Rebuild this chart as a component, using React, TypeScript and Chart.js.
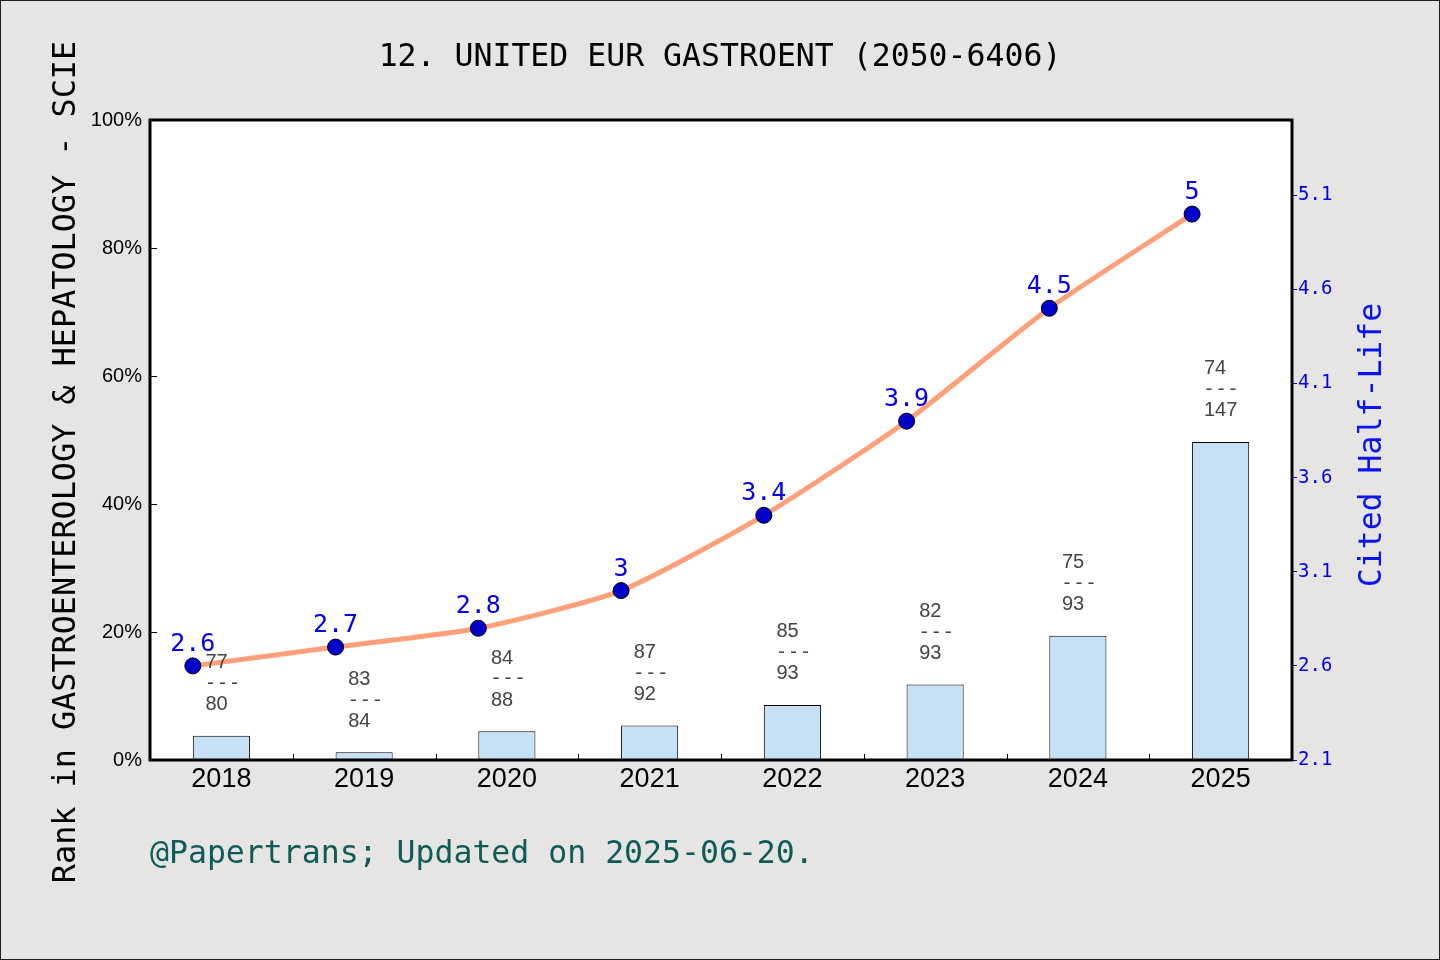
import { useEffect, useRef } from "react";
import { Chart, registerables } from "chart.js";

Chart.register(...registerables);

const YEARS = ["2018", "2019", "2020", "2021", "2022", "2023", "2024", "2025"];
const RANKS = [77, 83, 84, 87, 85, 82, 75, 74];
const TOTALS = [80, 84, 88, 92, 93, 93, 93, 147];
const RANK_PCT = [3.8, 1.2, 4.5, 5.4, 8.6, 11.8, 19.4, 49.7];
const HALF_LIFE = [2.6, 2.7, 2.8, 3, 3.4, 3.9, 4.5, 5];
const PCT_TICKS = [0, 20, 40, 60, 80, 100];
const HALF_LIFE_TICKS = [2.1, 2.6, 3.1, 3.6, 4.1, 4.6, 5.1];

const TITLE = "12. UNITED EUR GASTROENT (2050-6406)";
const LEFT_TITLE = "Rank in GASTROENTEROLOGY & HEPATOLOGY - SCIE";
const RIGHT_TITLE = "Cited Half-Life";
const FOOTER = "@Papertrans; Updated on 2025-06-20.";

const MONO = '"DejaVu Sans Mono", "Liberation Mono", monospace';
const SANS = '"Liberation Sans", Arial, sans-serif';
const NARROW = '"Liberation Sans Narrow", "Liberation Sans", Arial, sans-serif';
const BG = "#E6E5E3";
const BLUE = "#0000EE";
// line points sit at the left edge of each bar
const LINE_SHIFT = -0.2;

const decor = {
  id: "decor",
  beforeDraw(chart: any) {
    const { ctx, chartArea: a } = chart;
    ctx.save();
    ctx.fillStyle = BG;
    ctx.fillRect(0, 0, chart.width, chart.height);
    ctx.fillStyle = "#fff";
    ctx.fillRect(a.left, a.top, a.right - a.left, a.bottom - a.top);
    ctx.restore();
  },
  afterDatasetsDraw(chart: any) {
    const { ctx } = chart;
    ctx.save();
    // rank / total labels above the bars
    const bars = chart.getDatasetMeta(0).data;
    bars.forEach((bar: any, i: number) => {
      const lines = [String(RANKS[i]), "---", String(TOTALS[i])];
      ctx.font = `20px ${SANS}`;
      const w = Math.max(ctx.measureText(lines[0]).width, ctx.measureText(lines[2]).width, 32);
      const left = bar.x - w / 2;
      ctx.fillStyle = "#444";
      ctx.textAlign = "left";
      ctx.textBaseline = "middle";
      const base = bar.y - 31;
      ctx.fillText(lines[2], left, base);
      ctx.font = `20px ${MONO}`;
      ctx.fillText(lines[1], left - 1, base - 21);
      ctx.font = `20px ${SANS}`;
      ctx.fillText(lines[0], left, base - 42);
    });
    // value labels above the points
    const pts = chart.getDatasetMeta(1).data;
    ctx.font = `25px ${MONO}`;
    ctx.fillStyle = BLUE;
    ctx.textAlign = "center";
    ctx.textBaseline = "alphabetic";
    pts.forEach((p: any, i: number) => {
      ctx.fillText(String(HALF_LIFE[i]), p.x, p.y - 15);
    });
    ctx.restore();
  },
  afterDraw(chart: any) {
    const { ctx, chartArea: a, scales } = chart;
    ctx.save();
    // inward ticks
    ctx.strokeStyle = "#000";
    ctx.lineWidth = 1;
    ctx.beginPath();
    PCT_TICKS.forEach((v) => {
      const y = Math.round(scales.y.getPixelForValue(v)) + 0.5;
      ctx.moveTo(a.left, y);
      ctx.lineTo(a.left + 7, y);
    });
    for (let i = 0; i < YEARS.length - 1; i++) {
      const x = Math.round((scales.x.getPixelForValue(i) + scales.x.getPixelForValue(i + 1)) / 2) + 0.5;
      ctx.moveTo(x, a.bottom);
      ctx.lineTo(x, a.bottom - 6);
    }
    ctx.stroke();
    // frame
    ctx.lineWidth = 3;
    ctx.strokeRect(a.left, a.top, a.right - a.left, a.bottom - a.top);

    // titles
    ctx.fillStyle = "#000";
    ctx.font = `31.5px ${MONO}`;
    ctx.textAlign = "center";
    ctx.textBaseline = "middle";
    ctx.fillText(TITLE, 720, 58);

    ctx.save();
    ctx.translate(67, 462);
    ctx.rotate(-Math.PI / 2);
    ctx.font = `31.8px ${MONO}`;
    ctx.fillText(LEFT_TITLE, 0, 0);
    ctx.restore();

    ctx.save();
    ctx.translate(1373, 445);
    ctx.rotate(-Math.PI / 2);
    ctx.fillStyle = "#0A14F0";
    ctx.fillText(RIGHT_TITLE, 0, 0);
    ctx.restore();

    ctx.fillStyle = "#0E5C57";
    ctx.textAlign = "left";
    ctx.fillText(FOOTER, 150, 855);

    // outer border
    ctx.strokeStyle = "#222";
    ctx.lineWidth = 1;
    ctx.strokeRect(0.5, 0.5, chart.width - 1, chart.height - 1);
    ctx.restore();
  },
};

export default function App() {
  const canvasRef = useRef<HTMLCanvasElement>(null);

  useEffect(() => {
    document.body.style.margin = "0";
    if (!canvasRef.current) return;
    const chart = new Chart(canvasRef.current, {
      type: "bar",
      data: {
        labels: YEARS,
        datasets: [
          {
            type: "bar",
            data: RANK_PCT,
            backgroundColor: "#C6E0F6",
            borderColor: "#000",
            borderWidth: 1,
            barPercentage: 0.4,
            categoryPercentage: 1,
            grouped: false,
            xAxisID: "x",
            yAxisID: "y",
            order: 2,
          },
          {
            type: "line",
            data: HALF_LIFE.map((v, i) => ({ x: i + LINE_SHIFT, y: v })),
            borderColor: "#FFA07A",
            borderWidth: 5,
            tension: 0.2,
            pointRadius: 8,
            pointBackgroundColor: "#0000CD",
            pointBorderColor: "#000",
            pointBorderWidth: 1,
            xAxisID: "x2",
            yAxisID: "y2",
            order: 1,
          } as any,
        ],
      },
      options: {
        responsive: true,
        maintainAspectRatio: false,
        animation: false,
        layout: { padding: { top: 120, left: 0, right: 0, bottom: 0 } },
        plugins: {
          legend: { display: false },
          tooltip: { enabled: false },
        },
        scales: {
          x: {
            type: "category",
            offset: true,
            border: { display: false },
            grid: { display: false, drawTicks: false },
            ticks: { color: "#000", font: { family: SANS, size: 27 }, padding: 3 },
            afterFit: (s: any) => { s.height = 200; },
          },
          x2: {
            type: "linear",
            display: false,
            offset: false,
            grid: { offset: false },
            min: -0.5,
            max: YEARS.length - 0.5,
          },
          y: {
            position: "left",
            min: 0,
            max: 100,
            border: { display: false },
            grid: { display: false, drawTicks: false },
            afterBuildTicks: (s: any) => { s.ticks = PCT_TICKS.map((value) => ({ value })); },
            ticks: {
              color: "#000",
              font: { family: NARROW, size: 20 },
              padding: 8,
              callback: (v: any) => `${v}%`,
            },
            afterFit: (s: any) => { s.width = 150; },
          },
          y2: {
            position: "right",
            min: 2.1,
            max: 5.5,
            border: { display: false },
            grid: { drawOnChartArea: false, color: BLUE, tickLength: 5 },
            afterBuildTicks: (s: any) => { s.ticks = HALF_LIFE_TICKS.map((value) => ({ value })); },
            ticks: {
              color: BLUE,
              font: { family: MONO, size: 19 },
              padding: 1,
              callback: (v: any) => Number(v).toFixed(1),
            },
            afterFit: (s: any) => { s.width = 148; },
          },
        },
      },
      plugins: [decor],
    });
    return () => chart.destroy();
  }, []);

  return (
    <div style={{ position: "absolute", left: 0, top: 0, width: 1440, height: 960 }}>
      <canvas ref={canvasRef} />
    </div>
  );
}
